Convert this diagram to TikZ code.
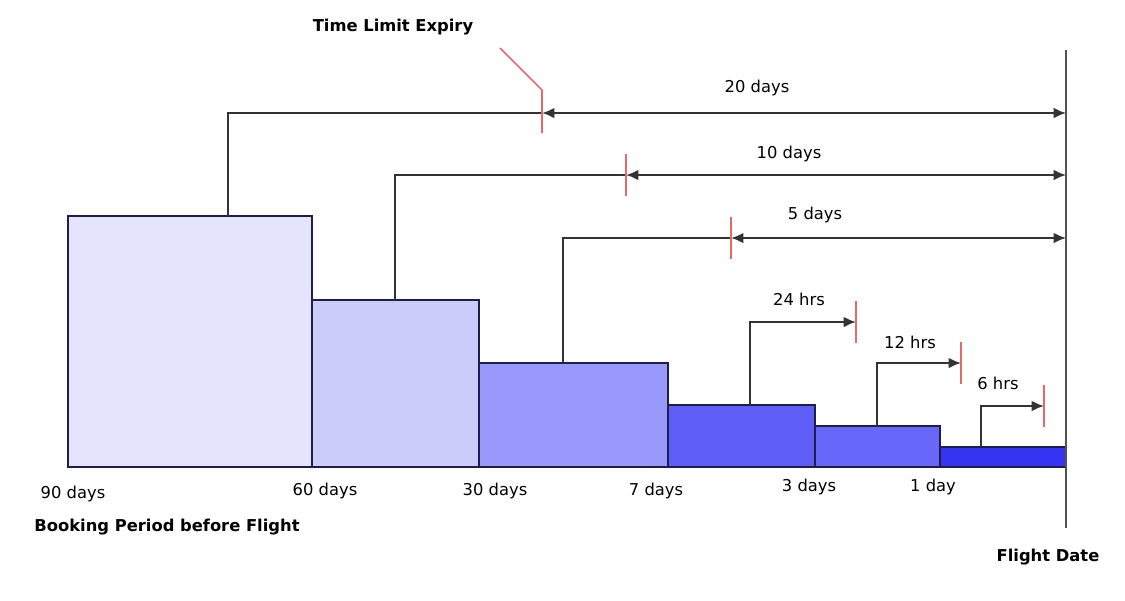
\documentclass[tikz,border=0pt]{standalone}
\usepackage{fontspec}
\setmainfont{DejaVu Sans}
\usetikzlibrary{arrows.meta}
\definecolor{cA}{HTML}{E4E4FC}
\definecolor{cB}{HTML}{CCCCFA}
\definecolor{cC}{HTML}{9999FC}
\definecolor{cD}{HTML}{5E5EF6}
\definecolor{cE}{HTML}{6767FA}
\definecolor{cF}{HTML}{3434F2}
\definecolor{bord}{HTML}{1E1E4A}
\definecolor{tickred}{HTML}{E46A6A}
\definecolor{lineg}{HTML}{333333}
\tikzset{
  bar/.style={draw=bord, line width=1.1pt, rectangle, inner sep=0pt, outer sep=0pt, anchor=south west},
  conn/.style={draw=lineg, line width=1.1pt},
  dbl/.style={conn, {Latex[length=7pt,width=6pt]}-{Latex[length=7pt,width=6pt]}},
  sgl/.style={conn, -{Latex[length=7pt,width=6pt]}},
  tickmark/.style={draw=tickred, line width=1pt},
  lab/.style={font=\fontsize{9.3}{11}\selectfont, inner sep=1pt},
  blab/.style={font=\fontsize{9.3}{11}\selectfont\bfseries, inner sep=1pt}
}
\begin{document}
\begin{tikzpicture}[x=0.02cm, y=-0.02cm]
\useasboundingbox (0,0) rectangle (1125,600);
% bars
\node[bar, fill=cA, minimum width=4.88cm, minimum height=5.02cm] (b1) at (68,467) {};
\node[bar, fill=cB, minimum width=3.34cm, minimum height=3.34cm] (b2) at (312,467) {};
\node[bar, fill=cC, minimum width=3.78cm, minimum height=2.08cm] (b3) at (479,467) {};
\node[bar, fill=cD, minimum width=2.94cm, minimum height=1.24cm] (b4) at (668,467) {};
\node[bar, fill=cE, minimum width=2.50cm, minimum height=0.82cm] (b5) at (815,467) {};
\node[bar, fill=cF, minimum width=2.52cm, minimum height=0.40cm] (b6) at (940,467) {};
% flight date line
\coordinate (fdtop) at (1066,50);
\coordinate (fdbot) at (1066,528);
\draw[draw=lineg!85, line width=1.1pt] (fdtop) -- (fdbot);
% connector start points
\coordinate (s1) at (228,216);
\coordinate (s2) at (395,300);
\coordinate (s3) at (563,363);
\coordinate (s4) at (750,405);
\coordinate (s5) at (877,426);
\coordinate (s6) at (981,447);
% tick points
\coordinate (t1) at (542,113);
\coordinate (t2) at (626,175);
\coordinate (t3) at (731,238);
\coordinate (t4) at (856,322);
\coordinate (t5) at (961,363);
\coordinate (t6) at (1044,406);
% ends
\coordinate (e1) at (1066,113);
\coordinate (e2) at (1066,175);
\coordinate (e3) at (1066,238);
% connectors
\draw[conn] (s1) |- (t1);
\draw[dbl] (t1) -- (e1);
\draw[conn] (s2) |- (t2);
\draw[dbl] (t2) -- (e2);
\draw[conn] (s3) |- (t3);
\draw[dbl] (t3) -- (e3);
\draw[sgl] (s4) |- (t4);
\draw[sgl] (s5) |- (t5);
\draw[sgl] (s6) |- (t6);
% red ticks
\coordinate (diag) at (500,48);
\draw[tickmark] (diag) -- (542,90) -- (542,133);
\draw[tickmark] (626,154) -- (626,196);
\draw[tickmark] (731,217) -- (731,259);
\draw[tickmark] (856,301) -- (856,343);
\draw[tickmark] (961,342) -- (961,384);
\draw[tickmark] (1044,385) -- (1044,427);
% labels
\node[lab] (l1) at (757,88) {20 days};
\node[lab] (l2) at (789,154) {10 days};
\node[lab] (l3) at (815,215) {5 days};
\node[lab] (l4) at (799,299) {24 hrs};
\node[lab] (l5) at (910,342) {12 hrs};
\node[lab] (l6) at (998,383) {6 hrs};
\node[lab] (d90) at (73,494) {90 days};
\node[lab] (d60) at (325,491) {60 days};
\node[lab] (d30) at (495,491) {30 days};
\node[lab] (d7) at (656,491) {7 days};
\node[lab] (d3) at (809,487) {3 days};
\node[lab] (d1) at (933,487) {1 day};
\node[blab] (tle) at (393,27) {Time Limit Expiry};
\node[blab] (bp) at (167,527) {Booking Period before Flight};
\node[blab] (fd) at (1048,557) {Flight Date};
\end{tikzpicture}
\end{document}
